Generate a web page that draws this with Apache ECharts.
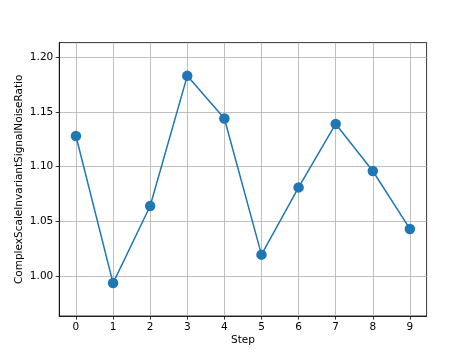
<!DOCTYPE html>
<html>
<head>
<meta charset="utf-8">
<script src="https://cdn.jsdelivr.net/npm/echarts@6/dist/echarts.min.js"></script>
<style>html,body{margin:0;padding:0;background:#fff}#c{width:474px;height:355px}</style>
</head>
<body>
<div id="c"></div>
<script>
const steps = [0, 1, 2, 3, 4, 5, 6, 7, 8, 9];
const values = [1.128, 0.9935, 1.064, 1.183, 1.144, 1.0195, 1.081, 1.139, 1.096, 1.043];
const yTicks = [1.00, 1.05, 1.10, 1.15, 1.20];
const xTicks = [0, 1, 2, 3, 4, 5, 6, 7, 8, 9];
const xName = 'Step';
const yName = 'ComplexScaleInvariantSignalNoiseRatio';

const font = 'DejaVu Sans';
const fs = 10.5;
const chart = echarts.init(document.getElementById('c'), null, {renderer: 'canvas'});
chart.setOption({
  animation: false,
  backgroundColor: '#fff',
  grid: {left: 59.25, right: 47.4, top: 42.6, bottom: 39, show: true, borderColor: '#000', borderWidth: 0.8, backgroundColor: 'transparent'},
  xAxis: {
    type: 'value', min: -0.45, max: 9.45,
    name: xName, nameLocation: 'middle', nameGap: 19, nameMoveOverlap: false,
    nameTextStyle: {fontFamily: font, fontSize: fs, color: '#000'},
    axisLine: {show: true, onZero: false, lineStyle: {color: '#000', width: 0.8}},
    axisTick: {show: true, length: 3.6, inside: false, customValues: xTicks, lineStyle: {color: '#000', width: 0.8}},
    axisLabel: {customValues: xTicks, fontFamily: font, fontSize: fs, color: '#000', margin: 6, formatter: v => String(v)},
    splitLine: {show: true, lineStyle: {color: '#b0b0b0', width: 0.8}}
  },
  yAxis: {
    type: 'value', min: 0.9634, max: 1.2134,
    name: yName, nameLocation: 'middle', nameGap: 34, nameRotate: 90, nameMoveOverlap: false,
    nameTextStyle: {fontFamily: font, fontSize: fs, color: '#000'},
    axisLine: {show: true, onZero: false, lineStyle: {color: '#000', width: 0.8}},
    axisTick: {show: true, length: 3.6, inside: false, customValues: yTicks, lineStyle: {color: '#000', width: 0.8}},
    axisLabel: {customValues: yTicks, fontFamily: font, fontSize: fs, color: '#000', margin: 6, formatter: v => v.toFixed(2)},
    splitLine: {show: true, lineStyle: {color: '#b0b0b0', width: 0.8}}
  },
  series: [{
    type: 'line',
    data: steps.map((s, i) => [s, values[i]]),
    symbol: 'circle', symbolSize: 10.5,
    itemStyle: {color: '#1f77b4'},
    lineStyle: {color: '#1f77b4', width: 1.5},
    z: 3
  }]
});
</script>
</body>
</html>
